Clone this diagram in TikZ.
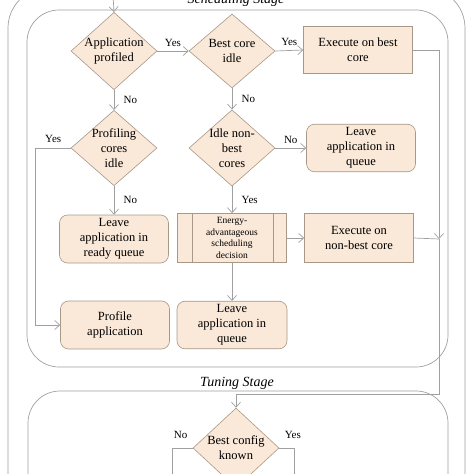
\documentclass[tikz,border=0pt]{standalone}
\usepackage{fontspec}
\setmainfont{Liberation Serif}
\usetikzlibrary{shapes.geometric,arrows.meta}
\definecolor{boxfill}{HTML}{FAE8D8}
\definecolor{boxline}{HTML}{A89888}
\definecolor{flowline}{HTML}{A0A0A0}

\begin{document}
\begin{tikzpicture}[x=1pt,y=-1pt,
    >={Straight Barb[length=5pt,width=9pt]},
    flow/.style={draw=flowline,line width=0.7pt},
    decision/.style={diamond,draw=boxline,fill=boxfill,line width=0.6pt,inner sep=-2pt,
        minimum width=86pt,minimum height=74pt,align=center,font=\fontsize{12.5}{15}\selectfont},
    action/.style={rectangle,draw=boxline,fill=boxfill,line width=0.6pt,
        minimum width=109pt,minimum height=47pt,align=center,font=\fontsize{12.5}{15}\selectfont},
    waitbox/.style={action,rounded corners=8pt},
    answer/.style={font=\fontsize{11}{13}\selectfont,text=black},
    stage/.style={font=\fontsize{14}{16}\selectfont\itshape,anchor=base}]
    \useasboundingbox (0,0) rectangle (474,474);
    \clip (0,0) rectangle (474,474);
    % frames
    \draw[flow,rounded corners=40pt] (8,-12) rectangle (465,520);
    \draw[flow,rounded corners=32pt] (27,10) rectangle (448,367);
    \draw[flow,rounded corners=32pt] (28,391) rectangle (448,520);
    \node[stage] (schedlbl) at (236,3) {Scheduling Stage};
    \node[stage] (tunelbl) at (237,386) {Tuning Stage};
    % scheduling stage
    \node[decision] (appprof) at (114,51) {Application\\profiled};
    \node[decision] (bestidle) at (232,51) {Best core\\idle};
    \node[action] (execbest) at (358,50) {Execute on best\\core};
    \node[decision] (profidle) at (114,148) {Profiling\\cores\\idle};
    \node[decision] (nbidle) at (232,148) {Idle non-\\best\\cores};
    \node[waitbox] (leaveq) at (361,148) {Leave\\application in\\queue};
    \node[waitbox,minimum height=48pt] (leaveready) at (114,239) {Leave\\application in\\ready queue};
    \node[action,minimum height=49pt,font=\fontsize{9.5}{11.5}\selectfont] (energy) at (232,238)
        {Energy-\\advantageous\\scheduling\\decision};
    \draw[boxline,line width=0.6pt] ([xshift=15pt]energy.north west) -- ([xshift=15pt]energy.south west);
    \draw[boxline,line width=0.6pt] ([xshift=-14pt]energy.north east) -- ([xshift=-14pt]energy.south east);
    \node[action,minimum height=49pt] (execnb) at (359,238) {Execute on\\non-best core};
    \node[waitbox,minimum height=48pt] (profapp) at (115,325) {Profile\\application};
    \node[waitbox,minimum width=110pt] (leaveq2) at (232,325) {Leave\\application in\\queue};
    % tuning stage
    \node[decision,minimum height=80pt] (bestcfg) at (236,448) {Best config\\known};
    \coordinate (join) at (439,239);
    \coordinate (down) at (439,394);
    % connectors
    \draw[flow,->] (113,-5) -- (appprof.north);
    \draw[flow,->] (appprof.east) -- (bestidle.west) node[answer,midway,above=1pt] {Yes};
    \draw[flow,->] (bestidle.east) -- (execbest.west) node[answer,midway,above=1pt] {Yes};
    \draw[flow,->] (appprof.south) -- (profidle.north) node[answer,midway,right=6pt] {No};
    \draw[flow,->] (bestidle.south) -- (nbidle.north) node[answer,midway,right=6pt] {No};
    \draw[flow,->] (profidle.south) -- (leaveready.north) node[answer,midway,right=6pt] {No};
    \draw[flow,->] (profidle.west) -- ++(-35,0) node[answer,pos=0.5,above=2pt] {Yes} |- (profapp.west);
    \draw[flow,->] (nbidle.east) -- (leaveq.west) node[answer,midway,above=1pt] {No};
    \draw[flow,->] (nbidle.south) -- (energy.north) node[answer,midway,right=6pt] {Yes};
    \draw[flow,->] (energy.east) -- (execnb.west);
    \draw[flow,->] (energy.south) -- (leaveq2.north);
    \draw[flow,->] (execbest.east) -| (join);
    \draw[flow] (execnb.east) -- (join);
    \draw[flow,->] (join) -- (down) -| (bestcfg.north);
    \draw[flow] (bestcfg.west) -- ++(-20,0) node[answer,pos=0.6,above=6pt] {No} -- ++(0,40);
    \draw[flow] (bestcfg.east) -- ++(15,0) node[answer,pos=0.9,above=6pt] {Yes} -- ++(0,40);
\end{tikzpicture}
\end{document}
